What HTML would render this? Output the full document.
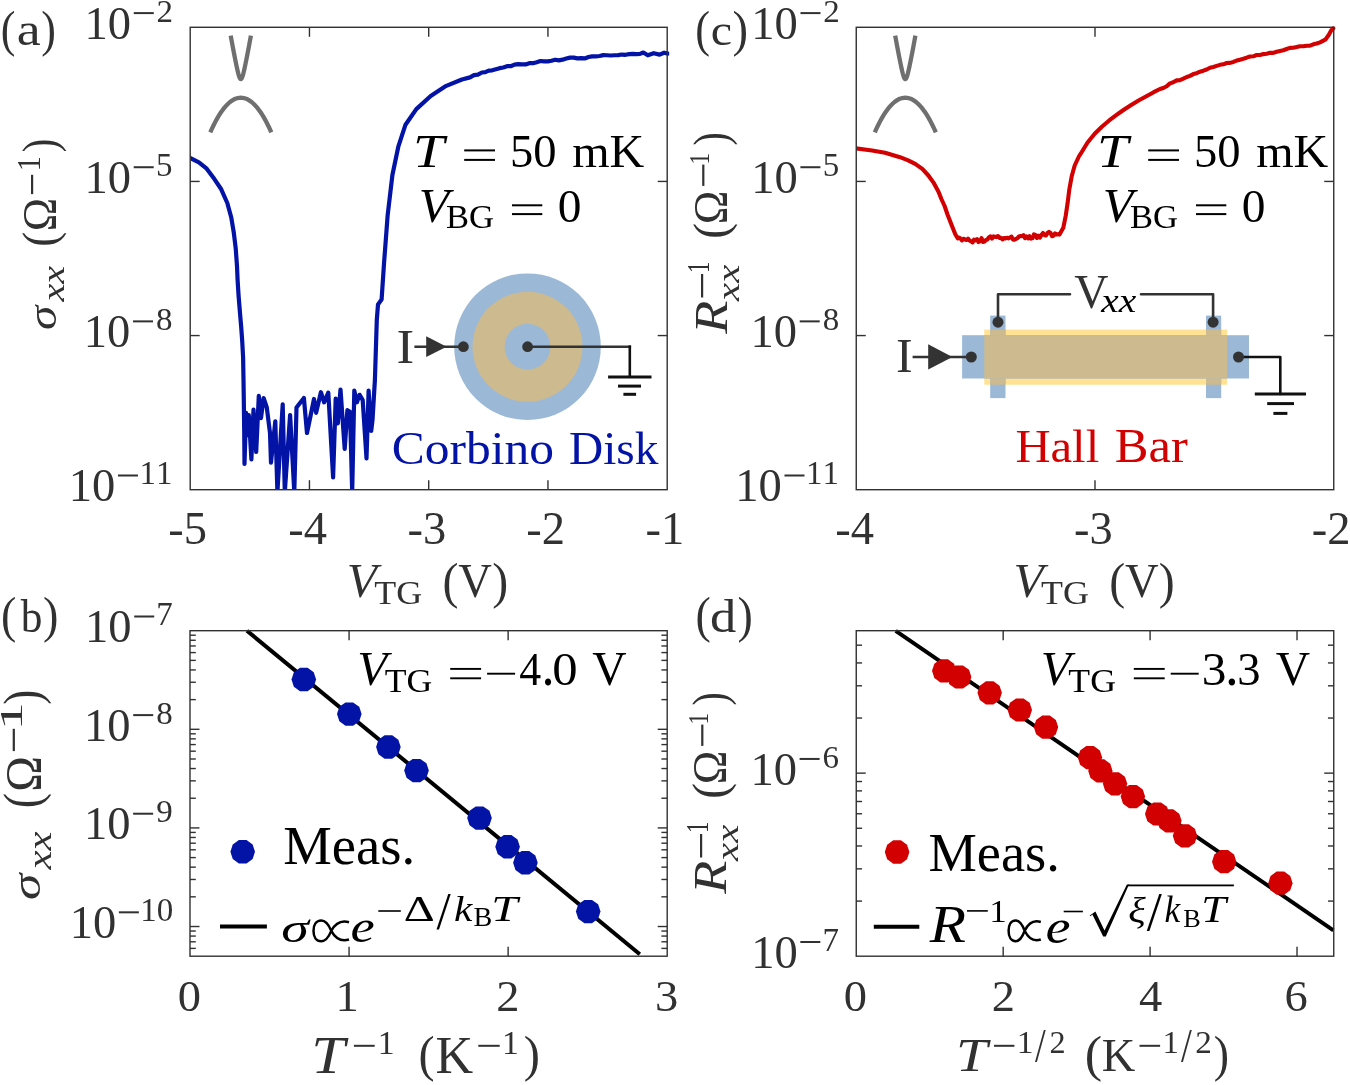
<!DOCTYPE html>
<html><head><meta charset="utf-8"><style>
html,body{margin:0;padding:0;background:#fff;}
svg{display:block;will-change:transform;font-family:"Liberation Serif",serif;font-kerning:none;}
text{font-kerning:none;}
</style></head><body>
<svg width="1350" height="1085" viewBox="0 0 1350 1085">
<rect width="1350" height="1085" fill="#fff"/>
<clipPath id="ca"><rect x="190.2" y="24.3" width="479.00000000000006" height="465.4"/></clipPath>
<polyline points="189.50,157.70 198.90,162.30 206.70,168.70 214.40,179.10 220.90,188.70 227.30,203.00 231.20,217.20 233.80,232.70 235.70,248.20 237.00,266.20 237.60,280.00 238.60,296.00 240.00,313.20 241.20,327.00 242.20,340.90 243.10,357.50 243.50,379.60 243.80,400.00 244.20,430.00 244.50,464.00 246.10,412.80 247.70,435.10 248.80,415.00 251.40,459.50 253.50,409.70 256.20,452.00 258.80,395.90 261.00,418.10 263.60,398.00 266.80,407.50 270.00,433.00 271.00,462.60 275.30,421.30 277.40,492.00 282.70,404.40 284.80,492.00 290.10,415.00 294.30,492.00 296.50,407.50 303.90,398.00 307.00,433.00 314.00,399.00 316.10,412.80 320.90,392.20 324.10,402.30 328.30,392.70 333.10,477.50 335.70,398.50 337.80,423.40 340.50,389.50 344.70,448.90 347.40,410.20 350.00,411.80 352.20,492.00 354.30,390.60 356.90,402.30 359.60,394.80 362.70,400.10 366.50,458.40 368.60,390.60 371.20,430.90 372.50,420.00 374.90,380.00 376.80,320.00 378.00,304.40 381.60,299.60 384.00,263.70 387.60,215.80 392.40,175.00 398.40,146.30 405.50,124.70 416.30,109.10 430.70,96.00 445.10,86.40 461.90,79.50 470.00,77.40 470.00,77.40 473.97,75.18 477.93,74.69 481.90,72.50 485.33,72.19 488.77,70.64 492.20,70.30 495.90,69.27 499.60,68.17 503.30,67.47 507.00,66.20 510.73,66.21 514.45,64.65 518.17,64.10 521.90,64.40 525.60,64.39 529.30,63.19 533.00,63.17 536.70,62.20 540.40,61.03 544.10,61.36 547.80,61.43 551.50,60.70 555.20,59.72 558.90,60.31 562.60,59.69 566.30,58.50 570.00,57.67 573.70,57.59 577.40,58.34 581.10,58.20 584.80,58.43 588.50,57.06 592.20,56.32 595.90,56.30 599.60,55.98 603.30,55.15 607.00,55.25 610.70,55.50 614.43,55.23 618.15,55.14 621.88,54.55 625.60,54.80 629.20,54.14 632.80,53.90 636.40,54.06 640.00,53.90 643.30,52.50 647.80,55.30 653.70,53.20 659.60,54.60 664.10,52.70 668.00,53.60" fill="none" stroke="#0313A6" stroke-width="4.2" stroke-linejoin="round" stroke-linecap="round" clip-path="url(#ca)"/>
<path d="M230.70,35.73 L231.21,38.46 L231.71,41.17 L232.22,43.87 L232.72,46.56 L233.23,49.23 L233.73,51.88 L234.24,54.50 L234.74,57.10 L235.25,59.66 L235.75,62.17 L236.26,64.63 L236.76,67.02 L237.27,69.32 L237.77,71.50 L238.28,73.53 L238.78,75.34 L239.29,76.89 L239.79,78.08 L240.30,78.84 L240.80,79.10 L241.31,78.84 L241.81,78.08 L242.31,76.89 L242.82,75.34 L243.33,73.53 L243.83,71.50 L244.34,69.32 L244.84,67.02 L245.34,64.63 L245.85,62.17 L246.36,59.66 L246.86,57.10 L247.37,54.50 L247.87,51.88 L248.38,49.23 L248.88,46.56 L249.39,43.87 L249.89,41.17 L250.40,38.46 L250.90,35.73" fill="none" stroke="#6f6f6f" stroke-width="4.3" stroke-linejoin="round"/>
<path d="M210.30,132.31 L211.83,128.93 L213.35,125.73 L214.88,122.70 L216.40,119.85 L217.93,117.17 L219.45,114.66 L220.98,112.32 L222.50,110.16 L224.03,108.17 L225.55,106.35 L227.08,104.71 L228.60,103.24 L230.12,101.94 L231.65,100.81 L233.18,99.86 L234.70,99.08 L236.23,98.48 L237.75,98.05 L239.28,97.79 L240.80,97.70 L242.33,97.79 L243.85,98.05 L245.38,98.48 L246.90,99.08 L248.43,99.86 L249.95,100.81 L251.48,101.94 L253.00,103.24 L254.53,104.71 L256.05,106.35 L257.57,108.17 L259.10,110.16 L260.62,112.32 L262.15,114.66 L263.68,117.17 L265.20,119.85 L266.73,122.70 L268.25,125.73 L269.78,128.93 L271.30,132.31" fill="none" stroke="#6f6f6f" stroke-width="4.3"/>
<rect x="190.2" y="27.3" width="477.00" height="462.40" fill="none" stroke="#313131" stroke-width="1.4"/>
<line x1="309.45" y1="489.70" x2="309.45" y2="480.20" stroke="#313131" stroke-width="1.4" stroke-linecap="butt"/>
<line x1="309.45" y1="27.30" x2="309.45" y2="36.80" stroke="#313131" stroke-width="1.4" stroke-linecap="butt"/>
<line x1="428.70" y1="489.70" x2="428.70" y2="480.20" stroke="#313131" stroke-width="1.4" stroke-linecap="butt"/>
<line x1="428.70" y1="27.30" x2="428.70" y2="36.80" stroke="#313131" stroke-width="1.4" stroke-linecap="butt"/>
<line x1="547.95" y1="489.70" x2="547.95" y2="480.20" stroke="#313131" stroke-width="1.4" stroke-linecap="butt"/>
<line x1="547.95" y1="27.30" x2="547.95" y2="36.80" stroke="#313131" stroke-width="1.4" stroke-linecap="butt"/>
<line x1="190.20" y1="335.57" x2="199.70" y2="335.57" stroke="#313131" stroke-width="1.4" stroke-linecap="butt"/>
<line x1="667.20" y1="335.57" x2="657.70" y2="335.57" stroke="#313131" stroke-width="1.4" stroke-linecap="butt"/>
<line x1="190.20" y1="181.43" x2="199.70" y2="181.43" stroke="#313131" stroke-width="1.4" stroke-linecap="butt"/>
<line x1="667.20" y1="181.43" x2="657.70" y2="181.43" stroke="#313131" stroke-width="1.4" stroke-linecap="butt"/>
<circle cx="527.50" cy="346.70" r="73.30" fill="#9BB8D6"/>
<circle cx="527.50" cy="346.70" r="55.00" fill="#CDBA8E"/>
<circle cx="527.50" cy="346.70" r="22.90" fill="#9BB8D6"/>
<line x1="527.50" y1="346.70" x2="631.10" y2="346.70" stroke="#333333" stroke-width="2.6" stroke-linecap="butt"/>
<line x1="629.80" y1="345.40" x2="629.80" y2="377.10" stroke="#111111" stroke-width="2.6" stroke-linecap="butt"/>
<line x1="608.10" y1="377.10" x2="651.50" y2="377.10" stroke="#111111" stroke-width="3.0" stroke-linecap="butt"/>
<line x1="618.00" y1="386.10" x2="641.00" y2="386.10" stroke="#111111" stroke-width="3.0" stroke-linecap="butt"/>
<line x1="623.40" y1="394.30" x2="636.10" y2="394.30" stroke="#111111" stroke-width="3.0" stroke-linecap="butt"/>
<line x1="414.40" y1="346.70" x2="463.40" y2="346.70" stroke="#333333" stroke-width="2.6" stroke-linecap="butt"/>
<polygon points="426.2,336.3 446.6,346.7 426.2,357.1" fill="#333333"/>
<circle cx="463.40" cy="346.70" r="5.40" fill="#333333"/>
<circle cx="527.60" cy="346.70" r="5.40" fill="#333333"/>
<text transform="translate(396.38,362.70) scale(1.0935,1)" font-size="48.57" font-style="normal" fill="#333333" >I</text>
<text transform="translate(391.67,464.40) scale(1.0597,1)" font-size="46.7" font-style="normal" fill="#0313A6" >Corbino</text>
<text transform="translate(568.94,464.40) scale(1.0268,1)" font-size="46.12" font-style="normal" fill="#0313A6" >Disk</text>
<text transform="translate(413.12,167.00) scale(1.1948,1)" font-size="47.04" font-style="italic" fill="#000000" >T</text>
<rect x="464.20" y="149.40" width="30.80" height="2.00" fill="#000000"/>
<rect x="464.20" y="158.90" width="30.80" height="2.00" fill="#000000"/>
<text transform="translate(510.09,167.00) scale(1.0258,1)" font-size="45.41" font-style="normal" fill="#000000" >50</text>
<text transform="translate(572.19,167.00) scale(1.0422,1)" font-size="46.12" font-style="normal" fill="#000000" >mK</text>
<text transform="translate(418.70,221.50) scale(1.0316,1)" font-size="48.26" font-style="italic" fill="#000000" >V</text>
<text transform="translate(445.91,227.60) scale(1.0254,1)" font-size="33.68" font-style="normal" fill="#000000" >BG</text>
<rect x="512.00" y="204.30" width="30.30" height="2.00" fill="#000000"/>
<rect x="512.00" y="213.10" width="30.30" height="2.00" fill="#000000"/>
<text transform="translate(557.69,221.70) scale(1.0142,1)" font-size="46.76" font-style="normal" fill="#000000" >0</text>
<text transform="translate(1097.12,167.00) scale(1.1948,1)" font-size="47.04" font-style="italic" fill="#000000" >T</text>
<rect x="1148.20" y="149.40" width="30.80" height="2.00" fill="#000000"/>
<rect x="1148.20" y="158.90" width="30.80" height="2.00" fill="#000000"/>
<text transform="translate(1194.09,167.00) scale(1.0258,1)" font-size="45.41" font-style="normal" fill="#000000" >50</text>
<text transform="translate(1256.19,167.00) scale(1.0422,1)" font-size="46.12" font-style="normal" fill="#000000" >mK</text>
<text transform="translate(1102.70,221.50) scale(1.0316,1)" font-size="48.26" font-style="italic" fill="#000000" >V</text>
<text transform="translate(1129.91,227.60) scale(1.0254,1)" font-size="33.68" font-style="normal" fill="#000000" >BG</text>
<rect x="1196.00" y="204.30" width="30.30" height="2.00" fill="#000000"/>
<rect x="1196.00" y="213.10" width="30.30" height="2.00" fill="#000000"/>
<text transform="translate(1241.69,221.70) scale(1.0142,1)" font-size="46.76" font-style="normal" fill="#000000" >0</text>
<text transform="translate(0.77,45.90) scale(0.8673,1)" font-size="50.73" font-style="normal" fill="#313131" >(</text>
<text transform="translate(41.28,45.90) scale(0.8673,1)" font-size="50.73" font-style="normal" fill="#313131" >)</text>
<text transform="translate(16.80,45.30) scale(1.1880,1)" font-size="45.39" font-style="normal" fill="#313131" >a</text>
<text transform="translate(156.62,21.80) scale(1.0163,1)" font-size="32.47" font-style="normal" fill="#313131" >2</text>
<rect x="133.77" y="12.10" width="20.00" height="2.00" fill="#313131"/>
<text transform="translate(84.58,38.80) scale(1.0023,1)" font-size="46.46" font-style="normal" fill="#313131" >10</text>
<text transform="translate(156.09,175.93) scale(1.0049,1)" font-size="32.84" font-style="normal" fill="#313131" >5</text>
<rect x="133.71" y="166.23" width="20.00" height="2.00" fill="#313131"/>
<text transform="translate(84.51,192.93) scale(1.0023,1)" font-size="46.46" font-style="normal" fill="#313131" >10</text>
<text transform="translate(156.06,330.07) scale(1.0207,1)" font-size="32.33" font-style="normal" fill="#313131" >8</text>
<rect x="133.01" y="320.37" width="20.00" height="2.00" fill="#313131"/>
<text transform="translate(83.82,347.07) scale(1.0023,1)" font-size="46.46" font-style="normal" fill="#313131" >10</text>
<text transform="translate(139.38,484.20) scale(0.9949,1)" font-size="33.17" font-style="normal" fill="#313131" >11</text>
<rect x="117.98" y="474.50" width="20.00" height="2.00" fill="#313131"/>
<text transform="translate(68.79,501.20) scale(1.0023,1)" font-size="46.46" font-style="normal" fill="#313131" >10</text>
<text transform="translate(168.27,543.50) scale(1.0082,1)" font-size="46.12" font-style="normal" fill="#313131" >-5</text>
<text transform="translate(288.27,543.50) scale(1.0135,1)" font-size="45.88" font-style="normal" fill="#313131" >-4</text>
<text transform="translate(407.57,543.50) scale(1.0195,1)" font-size="45.61" font-style="normal" fill="#313131" >-3</text>
<text transform="translate(526.27,543.50) scale(1.0195,1)" font-size="45.61" font-style="normal" fill="#313131" >-2</text>
<text transform="translate(645.47,543.50) scale(1.0164,1)" font-size="45.75" font-style="normal" fill="#313131" >-1</text>
<text transform="translate(346.72,597.30) scale(1.0094,1)" font-size="48.87" font-style="italic" fill="#313131" >V</text>
<text transform="translate(374.25,604.00) scale(1.0476,1)" font-size="34.28" font-style="normal" fill="#313131" >TG</text>
<text transform="translate(442.60,597.73) scale(0.9297,1)" font-size="51.51" font-style="normal" fill="#313131" >(</text>
<text transform="translate(458.18,597.30) scale(0.9534,1)" font-size="48.87" font-style="normal" fill="#313131" >V</text>
<text transform="translate(492.16,597.73) scale(0.9297,1)" font-size="51.51" font-style="normal" fill="#313131" >)</text>
<text transform="translate(1013.42,597.30) scale(1.0094,1)" font-size="48.87" font-style="italic" fill="#313131" >V</text>
<text transform="translate(1040.95,604.00) scale(1.0476,1)" font-size="34.28" font-style="normal" fill="#313131" >TG</text>
<text transform="translate(1109.30,597.73) scale(0.9297,1)" font-size="51.51" font-style="normal" fill="#313131" >(</text>
<text transform="translate(1124.88,597.30) scale(0.9534,1)" font-size="48.87" font-style="normal" fill="#313131" >V</text>
<text transform="translate(1158.86,597.73) scale(0.9297,1)" font-size="51.51" font-style="normal" fill="#313131" >)</text>
<clipPath id="cc"><rect x="856.25" y="24.3" width="480.5" height="465.4"/></clipPath>
<polyline points="855.00,148.30 872.10,150.50 885.00,152.80 900.00,157.20 908.10,160.30 915.20,163.80 922.30,168.90 928.40,175.50 933.50,182.60 938.50,191.70 941.60,199.50 944.60,206.00 947.70,215.00 951.70,225.20 955.30,234.30 957.80,238.40 959.00,237.59 960.50,238.43 962.00,240.40 963.50,238.76 965.00,239.31 966.50,240.03 968.00,238.63 969.50,240.44 971.00,241.33 972.50,242.42 974.00,239.71 975.50,240.35 977.00,239.14 978.50,242.02 980.00,241.23 981.50,238.08 983.00,241.93 984.50,241.58 986.00,239.93 987.50,239.48 989.00,237.18 990.50,236.34 992.00,238.54 993.50,236.41 995.00,236.91 996.50,237.08 998.00,236.08 999.50,237.92 1001.00,237.75 1002.50,239.45 1004.00,237.96 1005.50,238.43 1007.00,237.74 1008.50,238.39 1010.00,237.42 1011.50,236.57 1013.00,239.67 1014.50,239.59 1016.00,238.84 1017.50,238.19 1019.00,236.40 1020.50,235.95 1022.00,236.15 1023.50,235.12 1025.00,238.12 1026.50,236.44 1028.00,238.34 1029.50,236.25 1031.00,238.69 1032.50,238.14 1034.00,234.35 1035.50,235.12 1037.00,237.91 1038.50,235.67 1040.00,237.61 1041.50,234.75 1043.00,233.02 1044.50,235.17 1046.00,235.53 1047.50,232.99 1049.00,231.88 1050.50,232.92 1052.00,236.18 1053.50,235.75 1055.00,233.41 1056.50,234.45 1058.00,234.29 1059.50,234.59 1063.30,227.80 1065.70,215.90 1067.50,203.90 1069.30,189.50 1071.70,176.30 1074.70,165.50 1078.90,156.50 1080.70,153.70 1087.40,142.70 1094.70,133.80 1102.10,126.50 1109.50,120.20 1116.90,114.70 1124.20,109.50 1131.60,104.70 1139.00,100.30 1146.40,96.20 1153.70,92.20 1160.00,89.00 1160.00,89.00 1163.33,87.96 1166.65,86.28 1169.97,83.35 1173.30,82.30 1176.65,80.39 1180.00,80.12 1183.35,78.66 1186.70,77.00 1190.03,75.91 1193.35,74.08 1196.67,73.17 1200.00,71.70 1203.33,70.67 1206.65,69.46 1209.97,67.70 1213.30,67.00 1216.65,65.90 1220.00,64.85 1223.35,64.31 1226.70,63.00 1230.03,62.87 1233.35,61.98 1236.67,60.59 1240.00,59.70 1243.33,58.77 1246.65,57.68 1249.97,56.50 1253.30,56.30 1256.65,54.99 1260.00,54.95 1263.35,54.10 1266.70,53.70 1270.03,52.86 1273.35,52.90 1276.67,51.71 1280.00,51.00 1283.33,50.26 1286.65,48.98 1289.97,47.86 1293.30,47.70 1296.65,46.96 1300.00,46.19 1303.35,46.21 1306.70,45.70 1310.00,45.70 1313.30,44.30 1316.65,43.54 1320.00,42.30 1325.30,39.70 1328.70,35.00 1331.30,30.30 1333.30,28.30" fill="none" stroke="#D20000" stroke-width="4.1" stroke-linejoin="round" stroke-linecap="round" clip-path="url(#cc)"/>
<path d="M895.20,35.73 L895.70,38.46 L896.21,41.17 L896.71,43.87 L897.22,46.56 L897.72,49.23 L898.23,51.88 L898.73,54.50 L899.24,57.10 L899.75,59.66 L900.25,62.17 L900.75,64.63 L901.26,67.02 L901.76,69.32 L902.27,71.50 L902.77,73.53 L903.28,75.34 L903.78,76.89 L904.29,78.08 L904.79,78.84 L905.30,79.10 L905.80,78.84 L906.31,78.08 L906.81,76.89 L907.32,75.34 L907.82,73.53 L908.33,71.50 L908.83,69.32 L909.34,67.02 L909.84,64.63 L910.35,62.17 L910.85,59.66 L911.36,57.10 L911.87,54.50 L912.37,51.88 L912.88,49.23 L913.38,46.56 L913.88,43.87 L914.39,41.17 L914.89,38.46 L915.40,35.73" fill="none" stroke="#6f6f6f" stroke-width="4.3" stroke-linejoin="round"/>
<path d="M874.80,132.31 L876.32,128.93 L877.85,125.73 L879.38,122.70 L880.90,119.85 L882.42,117.17 L883.95,114.66 L885.47,112.32 L887.00,110.16 L888.52,108.17 L890.05,106.35 L891.57,104.71 L893.10,103.24 L894.62,101.94 L896.15,100.81 L897.67,99.86 L899.20,99.08 L900.72,98.48 L902.25,98.05 L903.77,97.79 L905.30,97.70 L906.82,97.79 L908.35,98.05 L909.88,98.48 L911.40,99.08 L912.92,99.86 L914.45,100.81 L915.97,101.94 L917.50,103.24 L919.02,104.71 L920.55,106.35 L922.07,108.17 L923.60,110.16 L925.12,112.32 L926.65,114.66 L928.17,117.17 L929.70,119.85 L931.22,122.70 L932.75,125.73 L934.27,128.93 L935.80,132.31" fill="none" stroke="#6f6f6f" stroke-width="4.3"/>
<rect x="856.25" y="27.3" width="477.50" height="462.40" fill="none" stroke="#313131" stroke-width="1.4"/>
<line x1="1095.00" y1="489.70" x2="1095.00" y2="480.20" stroke="#313131" stroke-width="1.4" stroke-linecap="butt"/>
<line x1="1095.00" y1="27.30" x2="1095.00" y2="36.80" stroke="#313131" stroke-width="1.4" stroke-linecap="butt"/>
<line x1="856.25" y1="335.57" x2="865.75" y2="335.57" stroke="#313131" stroke-width="1.4" stroke-linecap="butt"/>
<line x1="1333.75" y1="335.57" x2="1324.25" y2="335.57" stroke="#313131" stroke-width="1.4" stroke-linecap="butt"/>
<line x1="856.25" y1="181.43" x2="865.75" y2="181.43" stroke="#313131" stroke-width="1.4" stroke-linecap="butt"/>
<line x1="1333.75" y1="181.43" x2="1324.25" y2="181.43" stroke="#313131" stroke-width="1.4" stroke-linecap="butt"/>
<rect x="984.30" y="329.60" width="242.80" height="55.10" fill="#FFE294"/>
<rect x="962.10" y="335.20" width="286.90" height="43.30" fill="#9BB8D6"/>
<rect x="990.20" y="315.60" width="15.30" height="82.50" fill="#9BB8D6"/>
<rect x="1206.00" y="315.60" width="15.20" height="82.50" fill="#9BB8D6"/>
<rect x="984.30" y="335.20" width="242.80" height="43.30" fill="#CDBA8E"/>
<rect x="990.20" y="329.60" width="15.30" height="5.60" fill="#CDBA8E"/>
<rect x="990.20" y="378.50" width="15.30" height="6.20" fill="#CDBA8E"/>
<rect x="1206.00" y="329.60" width="15.20" height="5.60" fill="#CDBA8E"/>
<rect x="1206.00" y="378.50" width="15.20" height="6.20" fill="#CDBA8E"/>
<polyline points="998.00,322.20 998.00,294.30 1070.00,294.30" fill="none" stroke="#333333" stroke-width="2.6" stroke-linejoin="round" stroke-linecap="round" stroke-linecap="butt" stroke-linejoin="miter"/>
<polyline points="1141.00,294.30 1213.10,294.30 1213.10,322.20" fill="none" stroke="#333333" stroke-width="2.6" stroke-linejoin="round" stroke-linecap="round" stroke-linecap="butt" stroke-linejoin="miter"/>
<polyline points="1238.50,357.00 1280.30,357.00 1280.30,393.90" fill="none" stroke="#111111" stroke-width="2.6" stroke-linejoin="round" stroke-linecap="round" stroke-linecap="butt" stroke-linejoin="miter"/>
<line x1="1254.80" y1="393.90" x2="1306.00" y2="393.90" stroke="#111111" stroke-width="3.0" stroke-linecap="butt"/>
<line x1="1267.20" y1="403.60" x2="1294.00" y2="403.60" stroke="#111111" stroke-width="3.0" stroke-linecap="butt"/>
<line x1="1273.40" y1="413.40" x2="1287.40" y2="413.40" stroke="#111111" stroke-width="3.0" stroke-linecap="butt"/>
<line x1="912.60" y1="357.00" x2="971.30" y2="357.00" stroke="#333333" stroke-width="2.6" stroke-linecap="butt"/>
<polygon points="928.2,344.3 952.4,356.9 928.2,369.4" fill="#333333"/>
<circle cx="971.30" cy="357.00" r="5.50" fill="#333333"/>
<circle cx="1238.50" cy="357.00" r="5.50" fill="#333333"/>
<circle cx="998.00" cy="322.20" r="5.50" fill="#333333"/>
<circle cx="1213.10" cy="322.20" r="5.50" fill="#333333"/>
<text transform="translate(896.09,371.70) scale(1.0340,1)" font-size="48.41" font-style="normal" fill="#333333" >I</text>
<text transform="translate(1074.27,308.30) scale(0.9832,1)" font-size="48.26" font-style="normal" fill="#333333" >V</text>
<text transform="translate(1101.28,312.00) scale(1.2067,1)" font-size="32.68" font-style="italic" fill="#000000" >xx</text>
<text transform="translate(1015.40,462.40) scale(1.0551,1)" font-size="46.12" font-style="normal" fill="#D20000" >Hall</text>
<text transform="translate(1114.74,462.40) scale(1.0644,1)" font-size="47.5" font-style="normal" fill="#D20000" >Bar</text>
<text transform="translate(695.35,45.90) scale(0.8750,1)" font-size="50.73" font-style="normal" fill="#313131" >(</text>
<text transform="translate(732.49,45.90) scale(0.9210,1)" font-size="50.73" font-style="normal" fill="#313131" >)</text>
<text transform="translate(710.87,45.30) scale(1.0979,1)" font-size="43.72" font-style="normal" fill="#313131" >c</text>
<text transform="translate(823.32,21.80) scale(1.0163,1)" font-size="32.47" font-style="normal" fill="#313131" >2</text>
<rect x="800.47" y="12.10" width="20.00" height="2.00" fill="#313131"/>
<text transform="translate(751.28,38.80) scale(1.0023,1)" font-size="46.46" font-style="normal" fill="#313131" >10</text>
<text transform="translate(822.79,175.93) scale(1.0049,1)" font-size="32.84" font-style="normal" fill="#313131" >5</text>
<rect x="800.41" y="166.23" width="20.00" height="2.00" fill="#313131"/>
<text transform="translate(751.21,192.93) scale(1.0023,1)" font-size="46.46" font-style="normal" fill="#313131" >10</text>
<text transform="translate(822.76,330.07) scale(1.0207,1)" font-size="32.33" font-style="normal" fill="#313131" >8</text>
<rect x="799.71" y="320.37" width="20.00" height="2.00" fill="#313131"/>
<text transform="translate(750.52,347.07) scale(1.0023,1)" font-size="46.46" font-style="normal" fill="#313131" >10</text>
<text transform="translate(805.88,484.20) scale(0.9949,1)" font-size="33.17" font-style="normal" fill="#313131" >11</text>
<rect x="784.48" y="474.50" width="20.00" height="2.00" fill="#313131"/>
<text transform="translate(735.29,501.20) scale(1.0023,1)" font-size="46.46" font-style="normal" fill="#313131" >10</text>
<text transform="translate(835.17,543.50) scale(1.0135,1)" font-size="45.88" font-style="normal" fill="#313131" >-4</text>
<text transform="translate(1074.07,543.50) scale(1.0195,1)" font-size="45.61" font-style="normal" fill="#313131" >-3</text>
<text transform="translate(1311.67,543.50) scale(1.0195,1)" font-size="45.61" font-style="normal" fill="#313131" >-2</text>
<clipPath id="cb"><rect x="190.0" y="630.7" width="477.20000000000005" height="325.5"/></clipPath>
<line x1="246.90" y1="630.70" x2="639.80" y2="954.20" stroke="#000000" stroke-width="4.0" stroke-linecap="butt"/>
<polygon points="316.10,679.50 313.75,672.27 307.60,667.80 300.00,667.80 293.85,672.27 291.50,679.50 293.85,686.73 300.00,691.20 307.60,691.20 313.75,686.73" fill="#0313A6"/>
<polygon points="361.60,714.10 359.25,706.87 353.10,702.40 345.50,702.40 339.35,706.87 337.00,714.10 339.35,721.33 345.50,725.80 353.10,725.80 359.25,721.33" fill="#0313A6"/>
<polygon points="400.70,747.00 398.35,739.77 392.20,735.30 384.60,735.30 378.45,739.77 376.10,747.00 378.45,754.23 384.60,758.70 392.20,758.70 398.35,754.23" fill="#0313A6"/>
<polygon points="428.80,770.60 426.45,763.37 420.30,758.90 412.70,758.90 406.55,763.37 404.20,770.60 406.55,777.83 412.70,782.30 420.30,782.30 426.45,777.83" fill="#0313A6"/>
<polygon points="491.80,818.10 489.45,810.87 483.30,806.40 475.70,806.40 469.55,810.87 467.20,818.10 469.55,825.33 475.70,829.80 483.30,829.80 489.45,825.33" fill="#0313A6"/>
<polygon points="519.90,846.70 517.55,839.47 511.40,835.00 503.80,835.00 497.65,839.47 495.30,846.70 497.65,853.93 503.80,858.40 511.40,858.40 517.55,853.93" fill="#0313A6"/>
<polygon points="537.70,862.70 535.35,855.47 529.20,851.00 521.60,851.00 515.45,855.47 513.10,862.70 515.45,869.93 521.60,874.40 529.20,874.40 535.35,869.93" fill="#0313A6"/>
<polygon points="600.50,911.60 598.15,904.37 592.00,899.90 584.40,899.90 578.25,904.37 575.90,911.60 578.25,918.83 584.40,923.30 592.00,923.30 598.15,918.83" fill="#0313A6"/>
<rect x="190.0" y="630.7" width="477.20" height="325.50" fill="none" stroke="#313131" stroke-width="1.4"/>
<line x1="349.07" y1="956.20" x2="349.07" y2="946.70" stroke="#313131" stroke-width="1.4" stroke-linecap="butt"/>
<line x1="349.07" y1="630.70" x2="349.07" y2="640.20" stroke="#313131" stroke-width="1.4" stroke-linecap="butt"/>
<line x1="508.13" y1="956.20" x2="508.13" y2="946.70" stroke="#313131" stroke-width="1.4" stroke-linecap="butt"/>
<line x1="508.13" y1="630.70" x2="508.13" y2="640.20" stroke="#313131" stroke-width="1.4" stroke-linecap="butt"/>
<line x1="190.00" y1="729.31" x2="199.50" y2="729.31" stroke="#313131" stroke-width="1.4" stroke-linecap="butt"/>
<line x1="667.20" y1="729.31" x2="657.70" y2="729.31" stroke="#313131" stroke-width="1.4" stroke-linecap="butt"/>
<line x1="190.00" y1="827.91" x2="199.50" y2="827.91" stroke="#313131" stroke-width="1.4" stroke-linecap="butt"/>
<line x1="667.20" y1="827.91" x2="657.70" y2="827.91" stroke="#313131" stroke-width="1.4" stroke-linecap="butt"/>
<line x1="190.00" y1="926.52" x2="199.50" y2="926.52" stroke="#313131" stroke-width="1.4" stroke-linecap="butt"/>
<line x1="667.20" y1="926.52" x2="657.70" y2="926.52" stroke="#313131" stroke-width="1.4" stroke-linecap="butt"/>
<line x1="190.00" y1="948.39" x2="195.80" y2="948.39" stroke="#313131" stroke-width="1.4" stroke-linecap="butt"/>
<line x1="667.20" y1="948.39" x2="661.40" y2="948.39" stroke="#313131" stroke-width="1.4" stroke-linecap="butt"/>
<line x1="190.00" y1="941.79" x2="195.80" y2="941.79" stroke="#313131" stroke-width="1.4" stroke-linecap="butt"/>
<line x1="667.20" y1="941.79" x2="661.40" y2="941.79" stroke="#313131" stroke-width="1.4" stroke-linecap="butt"/>
<line x1="190.00" y1="936.07" x2="195.80" y2="936.07" stroke="#313131" stroke-width="1.4" stroke-linecap="butt"/>
<line x1="667.20" y1="936.07" x2="661.40" y2="936.07" stroke="#313131" stroke-width="1.4" stroke-linecap="butt"/>
<line x1="190.00" y1="931.03" x2="195.80" y2="931.03" stroke="#313131" stroke-width="1.4" stroke-linecap="butt"/>
<line x1="667.20" y1="931.03" x2="661.40" y2="931.03" stroke="#313131" stroke-width="1.4" stroke-linecap="butt"/>
<line x1="190.00" y1="896.83" x2="195.80" y2="896.83" stroke="#313131" stroke-width="1.4" stroke-linecap="butt"/>
<line x1="667.20" y1="896.83" x2="661.40" y2="896.83" stroke="#313131" stroke-width="1.4" stroke-linecap="butt"/>
<line x1="190.00" y1="879.47" x2="195.80" y2="879.47" stroke="#313131" stroke-width="1.4" stroke-linecap="butt"/>
<line x1="667.20" y1="879.47" x2="661.40" y2="879.47" stroke="#313131" stroke-width="1.4" stroke-linecap="butt"/>
<line x1="190.00" y1="867.15" x2="195.80" y2="867.15" stroke="#313131" stroke-width="1.4" stroke-linecap="butt"/>
<line x1="667.20" y1="867.15" x2="661.40" y2="867.15" stroke="#313131" stroke-width="1.4" stroke-linecap="butt"/>
<line x1="190.00" y1="857.59" x2="195.80" y2="857.59" stroke="#313131" stroke-width="1.4" stroke-linecap="butt"/>
<line x1="667.20" y1="857.59" x2="661.40" y2="857.59" stroke="#313131" stroke-width="1.4" stroke-linecap="butt"/>
<line x1="190.00" y1="849.79" x2="195.80" y2="849.79" stroke="#313131" stroke-width="1.4" stroke-linecap="butt"/>
<line x1="667.20" y1="849.79" x2="661.40" y2="849.79" stroke="#313131" stroke-width="1.4" stroke-linecap="butt"/>
<line x1="190.00" y1="843.19" x2="195.80" y2="843.19" stroke="#313131" stroke-width="1.4" stroke-linecap="butt"/>
<line x1="667.20" y1="843.19" x2="661.40" y2="843.19" stroke="#313131" stroke-width="1.4" stroke-linecap="butt"/>
<line x1="190.00" y1="837.47" x2="195.80" y2="837.47" stroke="#313131" stroke-width="1.4" stroke-linecap="butt"/>
<line x1="667.20" y1="837.47" x2="661.40" y2="837.47" stroke="#313131" stroke-width="1.4" stroke-linecap="butt"/>
<line x1="190.00" y1="832.42" x2="195.80" y2="832.42" stroke="#313131" stroke-width="1.4" stroke-linecap="butt"/>
<line x1="667.20" y1="832.42" x2="661.40" y2="832.42" stroke="#313131" stroke-width="1.4" stroke-linecap="butt"/>
<line x1="190.00" y1="798.23" x2="195.80" y2="798.23" stroke="#313131" stroke-width="1.4" stroke-linecap="butt"/>
<line x1="667.20" y1="798.23" x2="661.40" y2="798.23" stroke="#313131" stroke-width="1.4" stroke-linecap="butt"/>
<line x1="190.00" y1="780.86" x2="195.80" y2="780.86" stroke="#313131" stroke-width="1.4" stroke-linecap="butt"/>
<line x1="667.20" y1="780.86" x2="661.40" y2="780.86" stroke="#313131" stroke-width="1.4" stroke-linecap="butt"/>
<line x1="190.00" y1="768.54" x2="195.80" y2="768.54" stroke="#313131" stroke-width="1.4" stroke-linecap="butt"/>
<line x1="667.20" y1="768.54" x2="661.40" y2="768.54" stroke="#313131" stroke-width="1.4" stroke-linecap="butt"/>
<line x1="190.00" y1="758.99" x2="195.80" y2="758.99" stroke="#313131" stroke-width="1.4" stroke-linecap="butt"/>
<line x1="667.20" y1="758.99" x2="661.40" y2="758.99" stroke="#313131" stroke-width="1.4" stroke-linecap="butt"/>
<line x1="190.00" y1="751.18" x2="195.80" y2="751.18" stroke="#313131" stroke-width="1.4" stroke-linecap="butt"/>
<line x1="667.20" y1="751.18" x2="661.40" y2="751.18" stroke="#313131" stroke-width="1.4" stroke-linecap="butt"/>
<line x1="190.00" y1="744.58" x2="195.80" y2="744.58" stroke="#313131" stroke-width="1.4" stroke-linecap="butt"/>
<line x1="667.20" y1="744.58" x2="661.40" y2="744.58" stroke="#313131" stroke-width="1.4" stroke-linecap="butt"/>
<line x1="190.00" y1="738.86" x2="195.80" y2="738.86" stroke="#313131" stroke-width="1.4" stroke-linecap="butt"/>
<line x1="667.20" y1="738.86" x2="661.40" y2="738.86" stroke="#313131" stroke-width="1.4" stroke-linecap="butt"/>
<line x1="190.00" y1="733.82" x2="195.80" y2="733.82" stroke="#313131" stroke-width="1.4" stroke-linecap="butt"/>
<line x1="667.20" y1="733.82" x2="661.40" y2="733.82" stroke="#313131" stroke-width="1.4" stroke-linecap="butt"/>
<line x1="190.00" y1="699.62" x2="195.80" y2="699.62" stroke="#313131" stroke-width="1.4" stroke-linecap="butt"/>
<line x1="667.20" y1="699.62" x2="661.40" y2="699.62" stroke="#313131" stroke-width="1.4" stroke-linecap="butt"/>
<line x1="190.00" y1="682.26" x2="195.80" y2="682.26" stroke="#313131" stroke-width="1.4" stroke-linecap="butt"/>
<line x1="667.20" y1="682.26" x2="661.40" y2="682.26" stroke="#313131" stroke-width="1.4" stroke-linecap="butt"/>
<line x1="190.00" y1="669.94" x2="195.80" y2="669.94" stroke="#313131" stroke-width="1.4" stroke-linecap="butt"/>
<line x1="667.20" y1="669.94" x2="661.40" y2="669.94" stroke="#313131" stroke-width="1.4" stroke-linecap="butt"/>
<line x1="190.00" y1="660.38" x2="195.80" y2="660.38" stroke="#313131" stroke-width="1.4" stroke-linecap="butt"/>
<line x1="667.20" y1="660.38" x2="661.40" y2="660.38" stroke="#313131" stroke-width="1.4" stroke-linecap="butt"/>
<line x1="190.00" y1="652.58" x2="195.80" y2="652.58" stroke="#313131" stroke-width="1.4" stroke-linecap="butt"/>
<line x1="667.20" y1="652.58" x2="661.40" y2="652.58" stroke="#313131" stroke-width="1.4" stroke-linecap="butt"/>
<line x1="190.00" y1="645.97" x2="195.80" y2="645.97" stroke="#313131" stroke-width="1.4" stroke-linecap="butt"/>
<line x1="667.20" y1="645.97" x2="661.40" y2="645.97" stroke="#313131" stroke-width="1.4" stroke-linecap="butt"/>
<line x1="190.00" y1="640.26" x2="195.80" y2="640.26" stroke="#313131" stroke-width="1.4" stroke-linecap="butt"/>
<line x1="667.20" y1="640.26" x2="661.40" y2="640.26" stroke="#313131" stroke-width="1.4" stroke-linecap="butt"/>
<line x1="190.00" y1="635.21" x2="195.80" y2="635.21" stroke="#313131" stroke-width="1.4" stroke-linecap="butt"/>
<line x1="667.20" y1="635.21" x2="661.40" y2="635.21" stroke="#313131" stroke-width="1.4" stroke-linecap="butt"/>
<text transform="translate(357.13,685.30) scale(1.0288,1)" font-size="47.8" font-style="italic" fill="#000000" >V</text>
<text transform="translate(384.76,691.60) scale(1.0785,1)" font-size="33.08" font-style="normal" fill="#000000" >TG</text>
<rect x="450.20" y="667.95" width="30.90" height="1.90" fill="#000000"/>
<rect x="450.20" y="677.35" width="30.90" height="1.90" fill="#000000"/>
<rect x="487.10" y="672.75" width="28.00" height="1.90" fill="#000000"/>
<text transform="translate(519.14,685.00) scale(0.9318,1)" font-size="47.1" font-style="normal" fill="#000000" >4</text>
<text transform="translate(541.44,685.00) scale(0.8802,1)" font-size="59.61" font-style="normal" fill="#000000" >.</text>
<text transform="translate(552.17,685.00) scale(1.0884,1)" font-size="46.61" font-style="normal" fill="#000000" >0</text>
<text transform="translate(592.17,685.30) scale(0.9956,1)" font-size="47.8" font-style="normal" fill="#000000" >V</text>
<text transform="translate(1040.73,685.30) scale(1.0288,1)" font-size="47.8" font-style="italic" fill="#000000" >V</text>
<text transform="translate(1068.36,691.60) scale(1.0785,1)" font-size="33.08" font-style="normal" fill="#000000" >TG</text>
<rect x="1133.80" y="667.95" width="30.90" height="1.90" fill="#000000"/>
<rect x="1133.80" y="677.35" width="30.90" height="1.90" fill="#000000"/>
<rect x="1170.70" y="672.75" width="28.00" height="1.90" fill="#000000"/>
<text transform="translate(1201.64,685.00) scale(1.0548,1)" font-size="46.82" font-style="normal" fill="#000000" >3</text>
<text transform="translate(1225.07,685.00) scale(0.9228,1)" font-size="59.61" font-style="normal" fill="#000000" >.</text>
<text transform="translate(1237.26,685.00) scale(0.9979,1)" font-size="46.82" font-style="normal" fill="#000000" >3</text>
<text transform="translate(1275.77,685.30) scale(0.9956,1)" font-size="47.8" font-style="normal" fill="#000000" >V</text>
<polygon points="255.00,851.70 252.65,844.47 246.50,840.00 238.90,840.00 232.75,844.47 230.40,851.70 232.75,858.93 238.90,863.40 246.50,863.40 252.65,858.93" fill="#0313A6"/>
<text transform="translate(283.13,863.70) scale(1.0019,1)" font-size="54.52" font-style="normal" fill="#000000" >Meas.</text>
<line x1="220.00" y1="926.40" x2="266.90" y2="926.40" stroke="#000000" stroke-width="4.0" stroke-linecap="butt"/>
<text transform="translate(281.33,941.50) scale(1.2996,1)" font-size="43.05" font-style="italic" fill="#000000" >σ</text>
<path d="M349.00,922.25 C341.90,920.19 335.51,923.07 331.25,930.90 C327.70,939.55 324.86,941.20 321.31,941.20 C315.99,941.20 313.50,936.67 313.50,930.90 C313.50,925.13 315.99,920.60 321.31,920.60 C324.86,920.60 327.70,922.25 331.25,930.90 C335.51,938.73 341.90,941.61 349.00,939.55" fill="none" stroke="#000000" stroke-width="2.5"/>
<text transform="translate(350.52,941.50) scale(1.1575,1)" font-size="47.11" font-style="italic" fill="#000000" >e</text>
<rect x="378.30" y="910.20" width="22.50" height="1.60" fill="#000000"/>
<text transform="translate(403.67,920.50) scale(1.3403,1)" font-size="35.9" font-style="normal" fill="#000000" >Δ</text>
<text transform="translate(436.40,928.50) scale(0.9880,1)" font-size="51.73" font-style="normal" fill="#000000" >/</text>
<text transform="translate(454.11,920.50) scale(1.1542,1)" font-size="35.89" font-style="italic" fill="#000000" >k</text>
<text transform="translate(473.49,926.40) scale(1.0363,1)" font-size="27.18" font-style="normal" fill="#000000" >B</text>
<text transform="translate(491.29,920.50) scale(1.3114,1)" font-size="36.2" font-style="italic" fill="#000000" >T</text>
<line x1="895.70" y1="630.90" x2="1333.40" y2="930.30" stroke="#000000" stroke-width="4.0" stroke-linecap="butt"/>
<polygon points="956.40,670.80 954.07,663.63 947.97,659.20 940.43,659.20 934.33,663.63 932.00,670.80 934.33,677.97 940.43,682.40 947.97,682.40 954.07,677.97" fill="#D20000"/>
<polygon points="971.40,677.00 969.07,669.83 962.97,665.40 955.43,665.40 949.33,669.83 947.00,677.00 949.33,684.17 955.43,688.60 962.97,688.60 969.07,684.17" fill="#D20000"/>
<polygon points="1001.90,692.80 999.57,685.63 993.47,681.20 985.93,681.20 979.83,685.63 977.50,692.80 979.83,699.97 985.93,704.40 993.47,704.40 999.57,699.97" fill="#D20000"/>
<polygon points="1032.00,710.00 1029.67,702.83 1023.57,698.40 1016.03,698.40 1009.93,702.83 1007.60,710.00 1009.93,717.17 1016.03,721.60 1023.57,721.60 1029.67,717.17" fill="#D20000"/>
<polygon points="1058.20,727.10 1055.87,719.93 1049.77,715.50 1042.23,715.50 1036.13,719.93 1033.80,727.10 1036.13,734.27 1042.23,738.70 1049.77,738.70 1055.87,734.27" fill="#D20000"/>
<polygon points="1102.20,757.60 1099.87,750.43 1093.77,746.00 1086.23,746.00 1080.13,750.43 1077.80,757.60 1080.13,764.77 1086.23,769.20 1093.77,769.20 1099.87,764.77" fill="#D20000"/>
<polygon points="1112.60,770.90 1110.27,763.73 1104.17,759.30 1096.63,759.30 1090.53,763.73 1088.20,770.90 1090.53,778.07 1096.63,782.50 1104.17,782.50 1110.27,778.07" fill="#D20000"/>
<polygon points="1127.30,783.80 1124.97,776.63 1118.87,772.20 1111.33,772.20 1105.23,776.63 1102.90,783.80 1105.23,790.97 1111.33,795.40 1118.87,795.40 1124.97,790.97" fill="#D20000"/>
<polygon points="1145.10,796.60 1142.77,789.43 1136.67,785.00 1129.13,785.00 1123.03,789.43 1120.70,796.60 1123.03,803.77 1129.13,808.20 1136.67,808.20 1142.77,803.77" fill="#D20000"/>
<polygon points="1169.40,814.00 1167.07,806.83 1160.97,802.40 1153.43,802.40 1147.33,806.83 1145.00,814.00 1147.33,821.17 1153.43,825.60 1160.97,825.60 1167.07,821.17" fill="#D20000"/>
<polygon points="1181.60,820.80 1179.27,813.63 1173.17,809.20 1165.63,809.20 1159.53,813.63 1157.20,820.80 1159.53,827.97 1165.63,832.40 1173.17,832.40 1179.27,827.97" fill="#D20000"/>
<polygon points="1197.20,835.80 1194.87,828.63 1188.77,824.20 1181.23,824.20 1175.13,828.63 1172.80,835.80 1175.13,842.97 1181.23,847.40 1188.77,847.40 1194.87,842.97" fill="#D20000"/>
<polygon points="1236.40,861.70 1234.07,854.53 1227.97,850.10 1220.43,850.10 1214.33,854.53 1212.00,861.70 1214.33,868.87 1220.43,873.30 1227.97,873.30 1234.07,868.87" fill="#D20000"/>
<polygon points="1292.60,883.20 1290.27,876.03 1284.17,871.60 1276.63,871.60 1270.53,876.03 1268.20,883.20 1270.53,890.37 1276.63,894.80 1284.17,894.80 1290.27,890.37" fill="#D20000"/>
<rect x="856.25" y="630.7" width="477.50" height="325.50" fill="none" stroke="#313131" stroke-width="1.4"/>
<line x1="1003.17" y1="956.20" x2="1003.17" y2="946.70" stroke="#313131" stroke-width="1.4" stroke-linecap="butt"/>
<line x1="1003.17" y1="630.70" x2="1003.17" y2="640.20" stroke="#313131" stroke-width="1.4" stroke-linecap="butt"/>
<line x1="1150.10" y1="956.20" x2="1150.10" y2="946.70" stroke="#313131" stroke-width="1.4" stroke-linecap="butt"/>
<line x1="1150.10" y1="630.70" x2="1150.10" y2="640.20" stroke="#313131" stroke-width="1.4" stroke-linecap="butt"/>
<line x1="1297.02" y1="956.20" x2="1297.02" y2="946.70" stroke="#313131" stroke-width="1.4" stroke-linecap="butt"/>
<line x1="1297.02" y1="630.70" x2="1297.02" y2="640.20" stroke="#313131" stroke-width="1.4" stroke-linecap="butt"/>
<line x1="856.25" y1="773.14" x2="865.75" y2="773.14" stroke="#313131" stroke-width="1.4" stroke-linecap="butt"/>
<line x1="1333.75" y1="773.14" x2="1324.25" y2="773.14" stroke="#313131" stroke-width="1.4" stroke-linecap="butt"/>
<line x1="856.25" y1="901.09" x2="862.05" y2="901.09" stroke="#313131" stroke-width="1.4" stroke-linecap="butt"/>
<line x1="1333.75" y1="901.09" x2="1327.95" y2="901.09" stroke="#313131" stroke-width="1.4" stroke-linecap="butt"/>
<line x1="856.25" y1="868.86" x2="862.05" y2="868.86" stroke="#313131" stroke-width="1.4" stroke-linecap="butt"/>
<line x1="1333.75" y1="868.86" x2="1327.95" y2="868.86" stroke="#313131" stroke-width="1.4" stroke-linecap="butt"/>
<line x1="856.25" y1="845.99" x2="862.05" y2="845.99" stroke="#313131" stroke-width="1.4" stroke-linecap="butt"/>
<line x1="1333.75" y1="845.99" x2="1327.95" y2="845.99" stroke="#313131" stroke-width="1.4" stroke-linecap="butt"/>
<line x1="856.25" y1="828.25" x2="862.05" y2="828.25" stroke="#313131" stroke-width="1.4" stroke-linecap="butt"/>
<line x1="1333.75" y1="828.25" x2="1327.95" y2="828.25" stroke="#313131" stroke-width="1.4" stroke-linecap="butt"/>
<line x1="856.25" y1="813.76" x2="862.05" y2="813.76" stroke="#313131" stroke-width="1.4" stroke-linecap="butt"/>
<line x1="1333.75" y1="813.76" x2="1327.95" y2="813.76" stroke="#313131" stroke-width="1.4" stroke-linecap="butt"/>
<line x1="856.25" y1="801.50" x2="862.05" y2="801.50" stroke="#313131" stroke-width="1.4" stroke-linecap="butt"/>
<line x1="1333.75" y1="801.50" x2="1327.95" y2="801.50" stroke="#313131" stroke-width="1.4" stroke-linecap="butt"/>
<line x1="856.25" y1="790.88" x2="862.05" y2="790.88" stroke="#313131" stroke-width="1.4" stroke-linecap="butt"/>
<line x1="1333.75" y1="790.88" x2="1327.95" y2="790.88" stroke="#313131" stroke-width="1.4" stroke-linecap="butt"/>
<line x1="856.25" y1="781.52" x2="862.05" y2="781.52" stroke="#313131" stroke-width="1.4" stroke-linecap="butt"/>
<line x1="1333.75" y1="781.52" x2="1327.95" y2="781.52" stroke="#313131" stroke-width="1.4" stroke-linecap="butt"/>
<line x1="856.25" y1="718.04" x2="862.05" y2="718.04" stroke="#313131" stroke-width="1.4" stroke-linecap="butt"/>
<line x1="1333.75" y1="718.04" x2="1327.95" y2="718.04" stroke="#313131" stroke-width="1.4" stroke-linecap="butt"/>
<line x1="856.25" y1="685.81" x2="862.05" y2="685.81" stroke="#313131" stroke-width="1.4" stroke-linecap="butt"/>
<line x1="1333.75" y1="685.81" x2="1327.95" y2="685.81" stroke="#313131" stroke-width="1.4" stroke-linecap="butt"/>
<line x1="856.25" y1="662.93" x2="862.05" y2="662.93" stroke="#313131" stroke-width="1.4" stroke-linecap="butt"/>
<line x1="1333.75" y1="662.93" x2="1327.95" y2="662.93" stroke="#313131" stroke-width="1.4" stroke-linecap="butt"/>
<line x1="856.25" y1="645.19" x2="862.05" y2="645.19" stroke="#313131" stroke-width="1.4" stroke-linecap="butt"/>
<line x1="1333.75" y1="645.19" x2="1327.95" y2="645.19" stroke="#313131" stroke-width="1.4" stroke-linecap="butt"/>
<polygon points="909.40,852.00 907.05,844.77 900.90,840.30 893.30,840.30 887.15,844.77 884.80,852.00 887.15,859.23 893.30,863.70 900.90,863.70 907.05,859.23" fill="#D20000"/>
<text transform="translate(928.43,870.70) scale(0.9896,1)" font-size="54.98" font-style="normal" fill="#000000" >Meas.</text>
<line x1="873.80" y1="926.80" x2="919.30" y2="926.80" stroke="#000000" stroke-width="4.0" stroke-linecap="butt"/>
<text transform="translate(929.72,942.20) scale(1.1433,1)" font-size="51.93" font-style="italic" fill="#000000" >R</text>
<rect x="967.00" y="910.10" width="20.80" height="1.60" fill="#000000"/>
<text transform="translate(989.30,921.90) scale(1.1289,1)" font-size="31.2" font-style="normal" fill="#000000" >1</text>
<path d="M1040.80,922.06 C1034.36,919.98 1028.56,922.90 1024.70,930.80 C1021.48,939.54 1018.90,941.20 1015.68,941.20 C1010.85,941.20 1008.60,936.62 1008.60,930.80 C1008.60,924.98 1010.85,920.40 1015.68,920.40 C1018.90,920.40 1021.48,922.06 1024.70,930.80 C1028.56,938.70 1034.36,941.62 1040.80,939.54" fill="none" stroke="#000000" stroke-width="2.5"/>
<text transform="translate(1045.47,942.80) scale(1.1389,1)" font-size="49.45" font-style="italic" fill="#000000" >e</text>
<rect x="1063.70" y="910.70" width="19.20" height="1.60" fill="#000000"/>
<path d="M1089.8,915.6 L1095.4,911.4 L1104.5,930.4 L1126.9,884.4 L1129.0,884.4 L1105.8,936.6 L1103.2,936.6 L1092.4,914.6 L1090.4,916.2 Z" fill="#000"/>
<rect x="1127.90" y="884.50" width="106.00" height="1.80" fill="#000000"/>
<text transform="translate(1128.31,922.00) scale(1.1096,1)" font-size="36.64" font-style="italic" fill="#000000" >ξ</text>
<text transform="translate(1146.80,930.20) scale(1.0063,1)" font-size="54.01" font-style="normal" fill="#000000" >/</text>
<text transform="translate(1164.58,922.30) scale(0.9476,1)" font-size="37.33" font-style="italic" fill="#000000" >k</text>
<text transform="translate(1183.14,927.30) scale(1.0131,1)" font-size="25.96" font-style="normal" fill="#000000" >B</text>
<text transform="translate(1201.18,921.90) scale(1.1764,1)" font-size="37.88" font-style="italic" fill="#000000" >T</text>
<text transform="translate(0.98,631.82) scale(0.9076,1)" font-size="50.62" font-style="normal" fill="#313131" >(</text>
<text transform="translate(42.91,631.82) scale(0.9153,1)" font-size="50.62" font-style="normal" fill="#313131" >)</text>
<text transform="translate(20.70,631.50) scale(0.9417,1)" font-size="45.98" font-style="normal" fill="#313131" >b</text>
<text transform="translate(695.48,631.82) scale(0.9076,1)" font-size="50.62" font-style="normal" fill="#313131" >(</text>
<text transform="translate(737.52,631.82) scale(0.9076,1)" font-size="50.62" font-style="normal" fill="#313131" >)</text>
<text transform="translate(710.00,631.50) scale(1.1412,1)" font-size="45.98" font-style="normal" fill="#313131" >d</text>
<text transform="translate(156.35,625.20) scale(1.0049,1)" font-size="32.84" font-style="normal" fill="#313131" >7</text>
<rect x="134.23" y="615.50" width="20.00" height="2.00" fill="#313131"/>
<text transform="translate(85.03,642.20) scale(1.0023,1)" font-size="46.46" font-style="normal" fill="#313131" >10</text>
<text transform="translate(156.26,723.81) scale(1.0207,1)" font-size="32.33" font-style="normal" fill="#313131" >8</text>
<rect x="133.21" y="714.11" width="20.00" height="2.00" fill="#313131"/>
<text transform="translate(84.02,740.81) scale(1.0023,1)" font-size="46.46" font-style="normal" fill="#313131" >10</text>
<text transform="translate(156.35,822.41) scale(1.0163,1)" font-size="32.47" font-style="normal" fill="#313131" >9</text>
<rect x="133.12" y="812.71" width="20.00" height="2.00" fill="#313131"/>
<text transform="translate(83.92,839.41) scale(1.0023,1)" font-size="46.46" font-style="normal" fill="#313131" >10</text>
<text transform="translate(140.26,921.02) scale(1.0021,1)" font-size="32.93" font-style="normal" fill="#313131" >10</text>
<rect x="118.86" y="911.32" width="20.00" height="2.00" fill="#313131"/>
<text transform="translate(69.66,938.02) scale(1.0023,1)" font-size="46.46" font-style="normal" fill="#313131" >10</text>
<text transform="translate(822.48,767.64) scale(1.0163,1)" font-size="32.47" font-style="normal" fill="#313131" >6</text>
<rect x="799.60" y="757.94" width="20.00" height="2.00" fill="#313131"/>
<text transform="translate(750.41,784.64) scale(1.0023,1)" font-size="46.46" font-style="normal" fill="#313131" >10</text>
<text transform="translate(822.45,950.70) scale(1.0049,1)" font-size="32.84" font-style="normal" fill="#313131" >7</text>
<rect x="800.33" y="941.00" width="20.00" height="2.00" fill="#313131"/>
<text transform="translate(751.13,967.70) scale(1.0023,1)" font-size="46.46" font-style="normal" fill="#313131" >10</text>
<text transform="translate(177.83,1010.90) scale(1.0699,1)" font-size="43.46" font-style="normal" fill="#313131" >0</text>
<text transform="translate(335.41,1010.90) scale(1.0621,1)" font-size="43.78" font-style="normal" fill="#313131" >1</text>
<text transform="translate(496.16,1010.90) scale(1.0653,1)" font-size="43.65" font-style="normal" fill="#313131" >2</text>
<text transform="translate(655.07,1010.90) scale(1.0653,1)" font-size="43.65" font-style="normal" fill="#313131" >3</text>
<text transform="translate(843.63,1010.90) scale(1.0699,1)" font-size="43.46" font-style="normal" fill="#313131" >0</text>
<text transform="translate(991.66,1010.90) scale(1.0653,1)" font-size="43.65" font-style="normal" fill="#313131" >2</text>
<text transform="translate(1139.09,1010.90) scale(1.0590,1)" font-size="43.91" font-style="normal" fill="#313131" >4</text>
<text transform="translate(1284.50,1010.90) scale(1.0653,1)" font-size="43.65" font-style="normal" fill="#313131" >6</text>
<text transform="translate(311.34,1072.60) scale(1.1699,1)" font-size="51.77" font-style="italic" fill="#313131" >T</text>
<rect x="353.90" y="1044.80" width="20.80" height="2.00" fill="#313131"/>
<text transform="translate(377.63,1053.80) scale(0.9786,1)" font-size="34.54" font-style="normal" fill="#313131" >1</text>
<text transform="translate(418.48,1070.83) scale(0.9373,1)" font-size="51.51" font-style="normal" fill="#313131" >(</text>
<text transform="translate(435.40,1072.60) scale(1.0067,1)" font-size="51.77" font-style="normal" fill="#313131" >K</text>
<rect x="478.30" y="1044.80" width="21.40" height="2.00" fill="#313131"/>
<text transform="translate(502.03,1053.80) scale(0.9786,1)" font-size="34.54" font-style="normal" fill="#313131" >1</text>
<text transform="translate(523.83,1070.83) scale(0.9448,1)" font-size="51.51" font-style="normal" fill="#313131" >)</text>
<text transform="translate(956.00,1070.50) scale(1.2305,1)" font-size="45.97" font-style="italic" fill="#313131" >T</text>
<rect x="994.00" y="1044.80" width="20.40" height="2.00" fill="#313131"/>
<text transform="translate(1016.85,1053.30) scale(1.0291,1)" font-size="32.57" font-style="normal" fill="#313131" >1</text>
<text transform="translate(1034.90,1061.90) scale(0.7884,1)" font-size="48.85" font-style="normal" fill="#313131" >/</text>
<text transform="translate(1049.59,1053.30) scale(1.0444,1)" font-size="30.81" font-style="normal" fill="#313131" >2</text>
<text transform="translate(1084.71,1071.45) scale(1.0240,1)" font-size="50.95" font-style="normal" fill="#313131" >(</text>
<text transform="translate(1101.66,1070.50) scale(1.0095,1)" font-size="45.97" font-style="normal" fill="#313131" >K</text>
<rect x="1139.50" y="1044.80" width="20.60" height="2.00" fill="#313131"/>
<text transform="translate(1162.60,1053.30) scale(1.0117,1)" font-size="32.57" font-style="normal" fill="#313131" >1</text>
<text transform="translate(1180.90,1061.90) scale(0.7958,1)" font-size="48.85" font-style="normal" fill="#313131" >/</text>
<text transform="translate(1195.14,1053.30) scale(1.0768,1)" font-size="30.81" font-style="normal" fill="#313131" >2</text>
<text transform="translate(1213.82,1071.45) scale(0.9017,1)" font-size="50.95" font-style="normal" fill="#313131" >)</text>
<g transform="translate(56.40,330.00) rotate(-90)">
<text transform="translate(-0.07,0.00) scale(1.2457,1)" font-size="39.56" font-style="italic" fill="#313131" >σ</text>
<text transform="translate(28.39,7.10) scale(1.2506,1)" font-size="32.25" font-style="italic" fill="#313131" >xx</text>
<text transform="translate(83.13,0.00) scale(0.9084,1)" font-size="49.29" font-style="normal" fill="#313131" >(</text>
<text transform="translate(98.67,0.00) scale(0.9316,1)" font-size="48.33" font-style="normal" fill="#313131" >Ω</text>
<rect x="135.90" y="-25.40" width="19.30" height="2.20" fill="#313131"/>
<text transform="translate(158.68,-16.50) scale(0.9115,1)" font-size="32.72" font-style="normal" fill="#313131" >1</text>
<text transform="translate(177.68,0.00) scale(0.8294,1)" font-size="49.29" font-style="normal" fill="#313131" >)</text>
</g>
<g transform="translate(40.30,900.00) rotate(-90)">
<text transform="translate(-0.09,0.00) scale(1.3731,1)" font-size="38.98" font-style="italic" fill="#313131" >σ</text>
<text transform="translate(30.62,10.60) scale(1.2355,1)" font-size="34.64" font-style="italic" fill="#313131" >xx</text>
<text transform="translate(91.80,0.00) scale(0.8520,1)" font-size="53.47" font-style="normal" fill="#313131" >(</text>
<text transform="translate(108.32,0.00) scale(0.9374,1)" font-size="51.2" font-style="normal" fill="#313131" >Ω</text>
<rect x="148.90" y="-27.60" width="22.30" height="2.20" fill="#313131"/>
<text transform="translate(169.38,-18.00) scale(1.8658,1)" font-size="30.6" font-style="normal" fill="#313131" >1</text>
<text transform="translate(195.24,0.00) scale(0.8447,1)" font-size="53.47" font-style="normal" fill="#313131" >)</text>
</g>
<g transform="translate(726.80,336.00) rotate(-90)">
<text transform="translate(2.29,0.40) scale(1.1829,1)" font-size="45.82" font-style="italic" fill="#313131" >R</text>
<rect x="38.50" y="-25.80" width="23.50" height="2.20" fill="#313131"/>
<text transform="translate(63.00,-17.50) scale(0.7042,1)" font-size="32.27" font-style="normal" fill="#313131" >1</text>
<text transform="translate(35.00,12.00) scale(1.3217,1)" font-size="30.94" font-style="italic" fill="#313131" >xx</text>
<text transform="translate(97.31,0.00) scale(0.9780,1)" font-size="48.57" font-style="normal" fill="#313131" >(</text>
<text transform="translate(111.65,-0.20) scale(0.9236,1)" font-size="49.09" font-style="normal" fill="#313131" >Ω</text>
<rect x="150.10" y="-24.60" width="21.30" height="2.20" fill="#313131"/>
<text transform="translate(171.48,-17.50) scale(0.7912,1)" font-size="29.08" font-style="normal" fill="#313131" >1</text>
<text transform="translate(190.42,0.00) scale(0.8177,1)" font-size="48.57" font-style="normal" fill="#313131" >)</text>
</g>
<g transform="translate(725.80,896.00) rotate(-90)">
<text transform="translate(2.29,0.40) scale(1.1829,1)" font-size="45.82" font-style="italic" fill="#313131" >R</text>
<rect x="38.50" y="-25.80" width="23.50" height="2.20" fill="#313131"/>
<text transform="translate(63.00,-17.50) scale(0.7042,1)" font-size="32.27" font-style="normal" fill="#313131" >1</text>
<text transform="translate(35.00,12.00) scale(1.3217,1)" font-size="30.94" font-style="italic" fill="#313131" >xx</text>
<text transform="translate(97.31,0.00) scale(0.9780,1)" font-size="48.57" font-style="normal" fill="#313131" >(</text>
<text transform="translate(111.65,-0.20) scale(0.9236,1)" font-size="49.09" font-style="normal" fill="#313131" >Ω</text>
<rect x="150.10" y="-24.60" width="21.30" height="2.20" fill="#313131"/>
<text transform="translate(171.48,-17.50) scale(0.7912,1)" font-size="29.08" font-style="normal" fill="#313131" >1</text>
<text transform="translate(190.42,0.00) scale(0.8177,1)" font-size="48.57" font-style="normal" fill="#313131" >)</text>
</g>
</svg></body></html>
